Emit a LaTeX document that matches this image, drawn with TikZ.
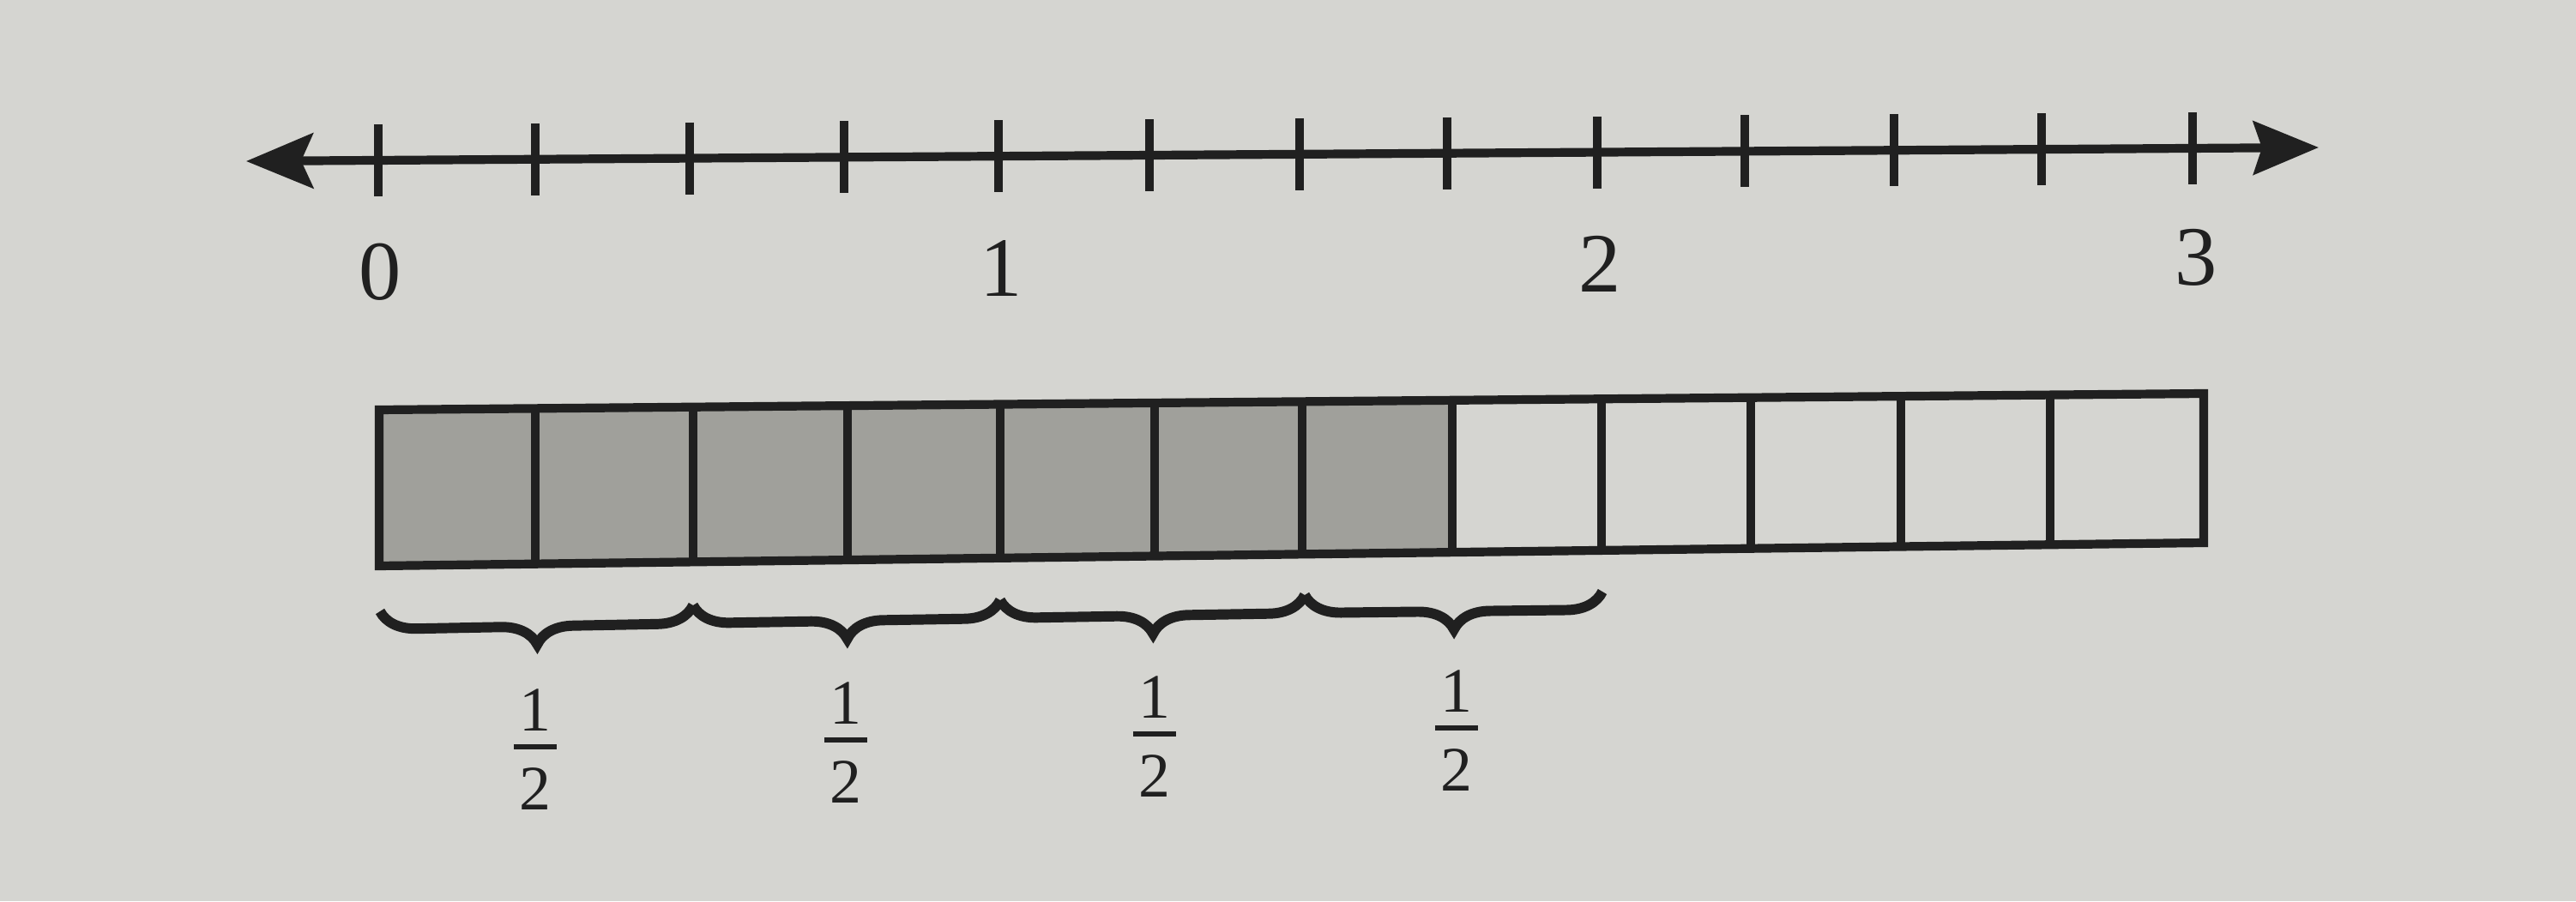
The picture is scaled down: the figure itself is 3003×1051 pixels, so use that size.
\documentclass[tikz,border=0pt]{standalone}
\usepackage{fontspec}
\setmainfont{Liberation Serif}
\usetikzlibrary{arrows.meta,decorations.pathreplacing}
\definecolor{paper}{RGB}{213,213,209}
\definecolor{cellgray}{RGB}{160,160,155}
\definecolor{ink}{RGB}{32,32,32}
\newcommand{\halfbox}{\vbox{\offinterlineskip\halign{\hfil##\hfil\cr 1\cr\noalign{\kern0.22em}\vrule width 0.68em height 0.07em depth 0pt\cr\noalign{\kern0.30em}2\cr}}}
\begin{document}
\begin{tikzpicture}[x=0.01cm,y=0.01cm,
  axisline/.style={draw=ink,line width=2.9pt},
  tickmark/.style={draw=ink,line width=3.1pt},
  cellline/.style={draw=ink,line width=2.9pt,line join=miter},
  shadedcell/.style={fill=cellgray},
  bracepath/.style={draw=ink,line width=3.4pt,decorate,decoration={brace,mirror,amplitude=0.42cm}},
  numlabel/.style={inner sep=0pt,text=ink,font=\fontsize{28}{30}\selectfont},
  fraclabel/.style={inner sep=0pt,text=ink,font=\fontsize{21}{24}\selectfont}]
\fill[paper] (0,0) rectangle (3003,1051);
\useasboundingbox (0,0) rectangle (3003,1051);
% number line
\coordinate (aL) at (287,863);
\coordinate (aR) at (2703,879);
\draw[axisline,{Stealth[length=0.78cm,width=0.64cm,inset=0.14cm]}-{Stealth[length=0.76cm,width=0.62cm,inset=0.1cm]}] (aL) -- (aR);
\foreach \x [count=\i from 0] in {441,624,804,984,1164,1340,1515,1687,1862,2034,2208,2380,2556} {
  \coordinate (k\i) at (\x,{864+(\x-441)/2115*14});
  \draw[tickmark] ([yshift=0.42cm]k\i) -- ([yshift=-0.42cm]k\i);
}
\node[numlabel] (n0) at (443,734) {0};
\node[numlabel] (n1) at (1167,738) {1};
\node[numlabel] (n2) at (1865,743) {2};
\node[numlabel] (n3) at (2560,751) {3};
% bar
\foreach \x [count=\i from 0] in {442,624,808,988,1166,1346,1518,1693,1867,2041,2216,2390,2569} {
  \coordinate (t\i) at (\x,{573+(\x-442)/2127*19});
  \coordinate (b\i) at (\x,{391+(\x-442)/2127*27});
}
\foreach \i in {0,...,6} {
  \pgfmathtruncatemacro\j{\i+1}
  \path[shadedcell] (t\i) -- (t\j) -- (b\j) -- (b\i) -- cycle;
}
\draw[cellline] (t0) -- (t12) -- (b12) -- (b0) -- cycle;
\foreach \i in {1,...,11} \draw[cellline] (t\i) -- (b\i);
% braces
\coordinate (c0) at (443,338);
\coordinate (c1) at (808,345);
\coordinate (c2) at (1166,351);
\coordinate (c3) at (1521,357);
\coordinate (c4) at (1868,361);
\foreach \i/\j in {0/1,1/2,2/3,3/4} \draw[bracepath] (c\i) -- (c\j);
% labels
\node[fraclabel] (h1) at (624,177) {\halfbox};
\node[fraclabel] (h2) at (986,185) {\halfbox};
\node[fraclabel] (h3) at (1346,192) {\halfbox};
\node[fraclabel] (h4) at (1698,199) {\halfbox};
\end{tikzpicture}
\end{document}
